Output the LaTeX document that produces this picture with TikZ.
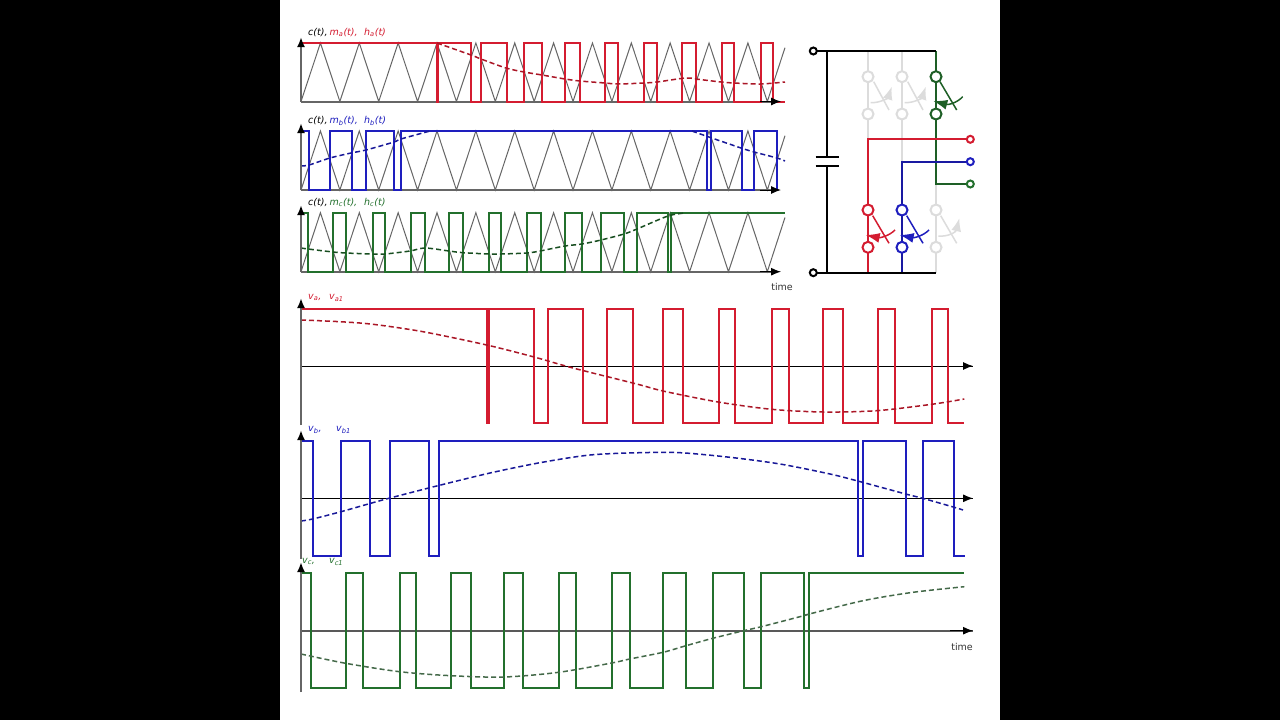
\documentclass[tikz,border=0pt]{standalone}
\usepackage{fontspec}
\setmainfont{DejaVu Sans}
\usetikzlibrary{arrows.meta}
\definecolor{phasea}{RGB}{212,28,48}
\definecolor{phaseb}{RGB}{30,30,190}
\definecolor{phasec}{RGB}{35,112,45}
\definecolor{offgray}{RGB}{220,220,220}
\tikzset{
  axisline/.style={line width=2pt,color=black!60,-{Latex[length=10pt,width=8pt,color=black]}},
  carrier/.style={line width=1pt,color=black!60},
  wave/.style={line width=2pt,line join=miter},
  mean/.style={line width=1.5pt,dash pattern=on 5pt off 3pt},
  wire/.style={line width=2pt},
  swcircle/.style={line width=2pt,fill=white},
  lbl/.style={inner sep=0pt,anchor=west,font=\fontsize{9.5}{11}\selectfont\itshape},
  timelbl/.style={inner sep=0pt,font=\fontsize{9.5}{10}\selectfont,color=black!80}
}
\begin{document}
\begin{tikzpicture}[x=1pt,y=-1pt]
\useasboundingbox (0,0) rectangle (1280,720);
\fill [black] (0,0) rectangle (1280,720);
\fill [white] (280,0) rectangle (1000,720);
% carrier panels
\foreach \base/\peak in {101.5/43,190/131,271.7/212.7}{
  \draw [carrier] (301,\base) \foreach \n in {0,...,11}{ -- ({301+38.86*\n+19.43},\peak) -- ({301+38.86*(\n+1)},\base)} -- (785,{\base-0.92*(\base-\peak)});
  \draw [line width=2pt,color=black!60] (301,\base) -- (771,\base);
}
% phase a, top
\draw [wave,color=phasea] (301,43) -| (436.6,101.5) -| (437.6,43) -| (471,101.5) -| (481.3,43) -| (506.7,101.5) -| (524,43) -| (542.3,101.5) -| (565,43) -| (579.7,101.5) -| (605.3,43) -| (617.7,101.5) -| (644,43) -| (657.3,101.5) -| (681.7,43) -| (696.3,101.5) -| (721.7,43) -| (734.3,101.5) -| (760.7,43) -| (773.3,101.5) -- (785,101.5);
\draw [line width=3pt,color=phasea] (437,43) -- (437,101.5);
\draw [mean,color=phasea!80!black] plot[smooth] coordinates {(437,43) (471,55) (481,59) (506,68) (524,72) (542,75) (565,79) (580,81) (605,83) (618,84) (644,83) (657,82) (681,78.5) (690,78) (696,79) (721,82) (734,83) (760,84) (785,82)};
% phase b, top
\draw [wave,color=phaseb] (301,131) -| (309.3,190) -| (330,131) -| (351.7,190) -| (366,131) -| (394,190) -| (401.3,131) -| (706.7,190) -| (711,131) -| (741.7,190) -| (754,131) -| (777.3,190);
\draw [mean,color=phaseb!80!black] plot[smooth] coordinates {(301,166) (309,165) (330,158) (351,153) (366,150) (394,142) (401,139) (430,131)};
\draw [mean,color=phaseb!80!black] plot[smooth] coordinates {(692,131) (706,136) (741,148) (754,152) (777,158) (785,161)};
% phase c, top
\draw [wave,color=phasec] (301,212.7) -| (308.3,271.7) -| (333.3,212.7) -| (346,271.7) -| (372.7,212.7) -| (385,271.7) -| (410.7,212.7) -| (425,271.7) -| (449,212.7) -| (462.7,271.7) -| (489,212.7) -| (501.3,271.7) -| (527.3,212.7) -| (540.7,271.7) -| (565,212.7) -| (582,271.7) -| (601,212.7) -| (624,271.7) -| (636.7,212.7) -| (668,271.7) -| (671.3,212.7) -- (785,212.7);
\draw [mean,color=phasec!70!black] plot[smooth] coordinates {(301,248) (308,249) (333,252) (346,253) (372,254) (385,254) (410,251) (425,248) (449,251) (462,252.6) (489,254) (501,254) (527,253) (540,251) (565,246) (582,244) (601,240) (624,234) (637,229) (668,216) (685,213)};
% top axes
\draw [axisline] (301,101.5) -- (301,37);
\draw [axisline] (301,190) -- (301,123);
\draw [axisline] (301,271.7) -- (301,205);
\draw [axisline,line width=1pt,color=black] (760,101.5) -- (781,101.5);
\draw [axisline,line width=1pt,color=black] (760,190) -- (781,190);
\draw [axisline,line width=1pt,color=black] (760,271.7) -- (781,271.7);
% lower panels
\draw [line width=1pt] (301,366) -- (973,366);
\draw [line width=1pt] (301,498.3) -- (973,498.3);
\draw [line width=2pt,color=black!65] (301,630.7) -- (973,630.7);
\draw [wave,color=phasea] (301,308.7) -| (486.7,423) -| (488.7,308.7) -| (534.3,423) -| (548.3,308.7) -| (583.3,423) -| (606.7,308.7) -| (632.7,423) -| (663.3,308.7) -| (682.7,423) -| (718.7,308.7) -| (735.3,423) -| (771.7,308.7) -| (789,423) -| (823.3,308.7) -| (843.3,423) -| (877.7,308.7) -| (895,423) -| (931.7,308.7) -| (948.3,423) -- (964.3,423);
\draw [mean,color=phasea!80!black] plot[smooth] coordinates {(301,320) (340,321.7) (373,324.3) (423,331.7) (486.7,345) (533,356.7) (573,368) (636.7,384) (663,391) (718,402) (771.7,409.3) (823.3,412) (876.7,410.7) (931.7,404.3) (964.3,399)};
\draw [wave,color=phaseb] (301,440.7) -| (312.7,556) -| (341,440.7) -| (370,556) -| (390,440.7) -| (428.7,556) -| (438.7,440.7) -| (857.7,556) -| (863,440.7) -| (905.7,556) -| (922.7,440.7) -| (954.3,556) -- (965,556);
\draw [mean,color=phaseb!80!black] plot[smooth] coordinates {(301,521) (312.7,519) (341,511.7) (370,503.5) (390,498) (428.7,488) (438.7,485.5) (490,473) (540,462.7) (590,455) (640,452.7) (680,452.7) (730,457.3) (780,464) (830,474) (857.7,481) (905.7,494) (922.7,498.3) (954.3,507.3) (963,510)};
\draw [wave,color=phasec] (301,573.3) -| (311.3,688) -| (345.7,573.3) -| (362.7,688) -| (399.7,573.3) -| (416.3,688) -| (451,573.3) -| (471.3,688) -| (504.3,573.3) -| (522.7,688) -| (558.7,573.3) -| (575.7,688) -| (611.7,573.3) -| (629.7,688) -| (663,573.3) -| (686,688) -| (712.7,573.3) -| (743.7,688) -| (761.3,573.3) -| (803.7,688) -| (809.3,573.3) -- (964.3,573.3);
\draw [mean,color=phasec!60!black!80] plot[smooth] coordinates {(301,654) (345.7,663.3) (399.7,671.7) (451,675.7) (504,677) (558.7,672.3) (611.7,663) (629.7,659) (663,652.3) (686,645.7) (712.7,638.3) (743.7,630.7) (761.3,626.7) (803.7,615.7) (809.3,614) (863,600.7) (913,592.3) (964.3,586.7)};
\draw [axisline] (301,425) -- (301,298);
\draw [axisline] (301,559) -- (301,430);
\draw [axisline] (301,692) -- (301,562);
\draw [axisline,line width=1pt,color=black] (950,366) -- (973,366);
\draw [axisline,line width=1pt,color=black] (950,498.3) -- (973,498.3);
\draw [axisline,line width=1pt,color=black] (950,630.7) -- (973,630.7);
% labels
\node [lbl] (ca) at (308,32.7) {c(t),};
\node [lbl,color=phasea] (ma) at (329.5,32.7) {m\textsubscript{a}(t),};
\node [lbl,color=phasea] (ha) at (364,32.7) {h\textsubscript{a}(t)};
\node [lbl] (cb) at (308,120.7) {c(t),};
\node [lbl,color=phaseb] (mb) at (329.5,120.7) {m\textsubscript{b}(t),};
\node [lbl,color=phaseb] (hb) at (364,120.7) {h\textsubscript{b}(t)};
\node [lbl] (cc) at (308,202.3) {c(t),};
\node [lbl,color=phasec] (mc) at (329.5,202.3) {m\textsubscript{c}(t),};
\node [lbl,color=phasec] (hc) at (364,202.3) {h\textsubscript{c}(t)};
\node [lbl,color=phasea] (va) at (308,297.7) {v\textsubscript{a},};
\node [lbl,color=phasea] (vaa) at (329,297.7) {v\textsubscript{a1}};
\node [lbl,color=phaseb] (vb) at (308,430) {v\textsubscript{b},};
\node [lbl,color=phaseb] (vbb) at (336,430) {v\textsubscript{b1}};
\node [lbl,color=phasec] (vc) at (302,561.7) {v\textsubscript{c},};
\node [lbl,color=phasec] (vcc) at (329,561.7) {v\textsubscript{c1}};
\node [timelbl] (timeup) at (782,287) {time};
\node [timelbl] (timedown) at (962,646.5) {time};
% off legs of the converter
\draw [wire,color=offgray] (868,51) -- (868,139.3);
\draw [wire,color=offgray] (902,51) -- (902,161.7);
\draw [wire,color=offgray] (936,184) -- (936,272.7);
% on legs
\draw [wire,color=phasec!85!black] (936,51) -- (936,184) -- (970.3,184);
\draw [wire,color=phasea] (970.3,139.3) -- (868,139.3) -- (868,272.7);
\draw [wire,color=phaseb!85!black] (970.3,161.7) -- (902,161.7) -- (902,272.7);
% rails and capacitor
\draw [wire] (813.3,51) -- (936,51);
\draw [wire] (813.3,272.7) -- (936,272.7);
\draw [wire] (827,51) -- (827,156.7);
\draw [wire] (827,165.7) -- (827,272.7);
\draw [wire] (815.7,156.7) -- (839,156.7);
\draw [wire] (815.7,165.7) -- (839,165.7);
% terminals
\draw [swcircle] (813.3,51) circle (3.5);
\draw [swcircle] (813.3,272.7) circle (3.5);
\draw [swcircle,draw=phasea] (970.3,139.3) circle (3.5);
\draw [swcircle,draw=phaseb] (970.3,161.7) circle (3.5);
\draw [swcircle,draw=phasec] (970.3,184) circle (3.5);
% switches
\foreach \x in {868,902}{
  \draw [swcircle,draw=offgray] (\x,76.7) circle (5.5);
  \draw [swcircle,draw=offgray] (\x,114) circle (5.5);
  \draw [wire,line width=1.5pt,color=offgray] (\x+5.7,81.7) -- (\x+21,110);
  \draw [wire,line width=1.5pt,color=offgray,-{Latex[length=13pt,width=10pt]}] (\x+2.7,102.7) .. controls (\x+12,103) and (\x+20,98) .. (\x+23.7,86.7);
}
\draw [swcircle,draw=phasec!85!black] (936,76.7) circle (5.5);
\draw [swcircle,draw=phasec!85!black] (936,114) circle (5.5);
\draw [wire,line width=1.5pt,color=phasec!85!black] (940,81.7) -- (956.7,110);
\draw [wire,line width=1.5pt,color=phasec!85!black,-{Latex[length=14pt,width=10pt]}] (962.7,96.7) .. controls (957,103) and (948,105) .. (933.3,101);
\draw [swcircle,draw=phasea] (868,210) circle (5.5);
\draw [swcircle,draw=phasea] (868,247.3) circle (5.5);
\draw [wire,line width=1.5pt,color=phasea] (872.7,215.7) -- (889,243.3);
\draw [wire,line width=1.5pt,color=phasea,-{Latex[length=14pt,width=10pt]}] (895,230) .. controls (889,236) and (880,238) .. (865.7,235);
\draw [swcircle,draw=phaseb] (902,210) circle (5.5);
\draw [swcircle,draw=phaseb] (902,247.3) circle (5.5);
\draw [wire,line width=1.5pt,color=phaseb] (906.7,215.7) -- (923,243.3);
\draw [wire,line width=1.5pt,color=phaseb,-{Latex[length=14pt,width=10pt]}] (929,230) .. controls (923,236) and (914,238) .. (899.7,235);
\draw [swcircle,draw=offgray] (936,210) circle (5.5);
\draw [swcircle,draw=offgray] (936,247.3) circle (5.5);
\draw [wire,line width=1.5pt,color=offgray] (940.7,215.7) -- (956.7,243.3);
\draw [wire,line width=1.5pt,color=offgray,-{Latex[length=13pt,width=10pt]}] (938.3,236) .. controls (948,237) and (956,232) .. (959.3,218.3);
\end{tikzpicture}
\end{document}
